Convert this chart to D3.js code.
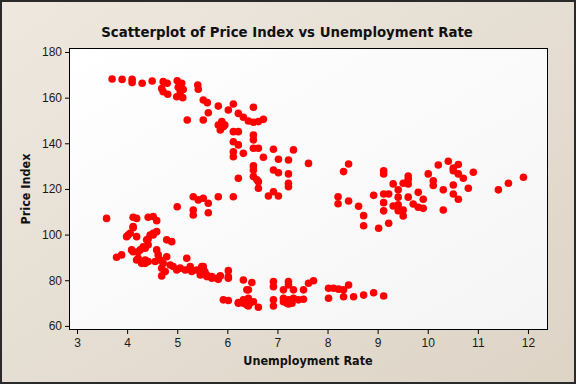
<!DOCTYPE html>
<html>
<head>
<meta charset="utf-8">
<script src="https://cdn.jsdelivr.net/npm/d3@7"></script>
<style>
  html, body { margin: 0; padding: 0; }
  svg { display: block; }
</style>
</head>
<body>
<div id="chart"></div>
<script>
// tick values
const xTicks = [3, 4, 5, 6, 7, 8, 9, 10, 11, 12];
const yTicks = [60, 80, 100, 120, 140, 160, 180];

// upper arm: high price index, falling with unemployment
const upperArm = [
  [3.70,168.2],[3.90,168],[4.10,168],[4.10,166.6],[4.30,166.3],[4.50,167.3],[4.72,167],[4.80,166.3],
  [4.69,164],[4.72,162.6],[4.81,161.5],[5.00,167.4],[5.09,166.3],[5.02,164.5],[5.12,163.6],[5.06,162.5],
  [4.99,160.4],[5.11,160],[5.41,165.5],[5.42,163.7],[5.20,150.2],[5.52,159],[5.60,157.8],[5.62,153.4],
  [5.52,150.2],[5.82,156.3],[6.02,154.6],[6.12,157.2],[5.82,148],[5.89,149.5],[5.95,148],[5.86,145.8],
  [5.92,147.3],[6.22,153.1],[6.32,151.4],[6.42,149.8],[6.52,149.2],[6.62,149.5],[6.72,150.5],[6.52,155.8],
  [6.12,145.1],[6.22,145.1],[6.52,143.6],[6.52,141.5],[6.12,140.7],[6.22,139.3],[6.52,137.8],[6.62,137.8],
  [6.92,137.4],[6.12,136.3],[6.12,134.1],[6.32,135.6],[6.72,133.9],[7.02,133],[6.52,130.1],[6.52,128.3],
  [6.92,128.3],[7.02,127.1],[6.22,124.7],[6.52,125.4],[6.59,124],[7.22,132.7],[7.32,137.1],[7.62,131.2],
  [7.22,126.6],[6.62,123.2],[6.62,120.3],[7.22,122.5],[7.22,121],[6.82,116.9],[6.92,118.8],[7.02,116.9],
  [5.32,116.6],[5.42,115.2],[5.52,115.9],[5.62,113.7],[5.82,116.6],[6.12,116.6]
];

// right cluster: high unemployment
const rightCluster = [
  [8.21,116.6],[8.21,113.5],[8.42,130.9],[8.32,127.6],[9.12,128],[9.12,126.6],[10.21,130.5],[10.41,132.1],
  [10.61,130.7],[10.51,129.1],[10.51,128],[10.91,127.3],[10.01,126.6],[10.61,126.6],[10.71,124.7],[9.61,125.7],
  [9.61,124.2],[10.11,123.6],[10.11,121.5],[9.51,122.5],[9.61,122.2],[9.31,122.2],[10.51,121.7],[10.81,120.3],
  [11.41,119.6],[11.61,122.5],[11.91,125.1],[9.41,119.6],[9.81,118.5],[10.31,119.6],[10.51,117.8],[8.92,117.2],
  [9.12,117.8],[9.22,117.8],[9.41,116.4],[9.61,116.4],[9.91,115.5],[10.61,115.5],[8.42,114.7],[8.62,112.4],
  [9.12,114],[9.31,112.5],[9.41,113],[9.71,113.4],[9.81,112],[9.91,111.5],[9.12,110.4],[9.41,110.5],
  [9.51,110.8],[9.51,108.2],[10.31,110.8],[8.72,108.3],[8.72,103.9],[9.02,102.8],[9.22,105]
];

// lower arm: low price index
const lowerArm = [
  [3.59,107.1],[4.12,107.6],[4.19,107.1],[4.42,107.6],[4.52,107.9],[4.59,106.1],[5.00,112.2],[5.32,110.8],
  [5.32,108.6],[5.62,109.6],[4.12,103.5],[4.12,103],[4.06,100.6],[3.99,99.1],[4.02,99.8],[4.19,99.1],
  [4.42,98.1],[4.52,100.6],[4.59,101.3],[4.46,99.8],[4.52,99.8],[4.39,97.7],[4.42,95.5],[4.32,94.7],
  [4.26,93.3],[4.12,92.5],[4.09,93.3],[4.22,92.5],[4.36,94],[4.79,97.7],[4.89,96.9],[3.79,90.1],
  [3.89,91.1],[4.19,88.9],[4.29,87.4],[4.36,88.9],[4.42,88.2],[4.22,89.6],[4.36,87.4],[4.59,93.3],
  [4.62,91.1],[4.56,88.2],[4.66,88.9],[4.72,87.4],[4.79,90.3],[4.69,85.3],[4.76,83.8],[4.69,81.9],
  [4.86,86.7],[4.92,86],[4.99,84.5],[5.06,85.3],[5.19,89.6],[5.16,84.5],[5.26,86],[5.29,83.8],
  [5.39,84.5],[5.49,86],[5.55,83.8],[5.46,82.3],[5.59,81.6],[5.69,80.9],[5.82,80.4],[6.02,84.2],
  [6.02,80.9],[6.32,80.1],[6.39,75.8],[5.92,71.4],[6.02,71.1],[6.22,69.9],[6.32,71.4],[6.39,69.2],
  [5.52,86],[5.52,83.8],[5.59,82.3],[5.69,81.6],[5.79,80.9],[5.86,81.9],[6.02,81.6],[6.49,79],
  [6.42,75.8],[6.22,70.2],[6.42,72.1],[6.45,69.9],[6.52,70.6],[6.62,68.2],[6.42,68.7],[6.32,69.9],
  [6.92,79.4],[6.92,77.2],[6.92,71.4],[6.92,68.7],[7.22,79.4],[7.22,77.9],[7.12,75.8],[7.32,75.8],
  [7.52,75.8],[7.62,78.7],[7.72,79.8],[7.12,72.1],[7.22,71.4],[7.19,69.9],[7.32,72.1],[7.42,71.4],
  [7.52,71.7],[7.12,70.6],[7.29,69.9],[7.22,69.6],[8.02,76.5],[8.12,76.5],[8.22,76.1],[8.32,75.8],
  [8.42,77.9],[8.02,72.1],[8.32,72.8],[8.52,72.8],[8.72,73.5],[8.92,74.5],[9.12,73.1]
];

const points = upperArm.concat(rightCluster, lowerArm);

const W = 576, H = 384;
const plot = { left: 69, right: 548, top: 48, bottom: 330 };

const svg = d3.select("#chart").append("svg")
  .attr("width", W).attr("height", H);

const defs = svg.append("defs");
const bg = defs.append("linearGradient").attr("id", "bg")
  .attr("x1", "0").attr("y1", "0").attr("x2", "1").attr("y2", "1");
bg.append("stop").attr("offset", "0%").attr("stop-color", "#eee8df");
bg.append("stop").attr("offset", "100%").attr("stop-color", "#ddd4c6");

const pg = defs.append("linearGradient").attr("id", "pg")
  .attr("x1", "0").attr("y1", "0").attr("x2", "1").attr("y2", "1");
pg.append("stop").attr("offset", "0%").attr("stop-color", "#ffffff");
pg.append("stop").attr("offset", "100%").attr("stop-color", "#f5f5f5");

// background + outer border
svg.append("rect").attr("x", 0).attr("y", 0).attr("width", W).attr("height", H)
  .attr("fill", "url(#bg)");
svg.append("rect").attr("x", 1).attr("y", 1).attr("width", W - 2).attr("height", H - 2)
  .attr("fill", "none").attr("stroke", "#2a2a2a").attr("stroke-width", 2);

const x = d3.scaleLinear().domain([2.84, 12.4]).range([plot.left, plot.right]);
const y = d3.scaleLinear().domain([58.2, 181.75]).range([plot.bottom, plot.top]);

// plot area
svg.append("rect")
  .attr("x", plot.left).attr("y", plot.top)
  .attr("width", plot.right - plot.left).attr("height", plot.bottom - plot.top)
  .attr("fill", "url(#pg)");

// points
svg.append("g")
  .selectAll("circle")
  .data(points)
  .enter()
  .append("circle")
  .attr("cx", d => x(d[0]))
  .attr("cy", d => y(d[1]))
  .attr("r", 3.8)
  .attr("fill", "#ff0000");

// frame
svg.append("rect")
  .attr("x", plot.left + 0.5).attr("y", plot.top + 0.5)
  .attr("width", plot.right - plot.left - 1).attr("height", plot.bottom - plot.top - 1)
  .attr("fill", "none").attr("stroke", "#000").attr("stroke-width", 1);

// axes
const xAxis = svg.append("g")
  .attr("transform", `translate(0,${plot.bottom})`)
  .call(d3.axisBottom(x).tickValues(xTicks).tickSize(4).tickPadding(4).tickFormat(d3.format("d")));
const yAxis = svg.append("g")
  .attr("transform", `translate(${plot.left},0)`)
  .call(d3.axisLeft(y).tickValues(yTicks).tickSize(4).tickPadding(3).tickFormat(d3.format("d")));

[xAxis, yAxis].forEach(a => {
  a.select(".domain").remove();
  a.selectAll(".tick line").attr("stroke", "#000");
  a.selectAll(".tick text")
    .attr("fill", "#1a1a1a")
    .style("font-family", "'Liberation Sans', Arial, sans-serif")
    .style("font-size", "12px");
});

// titles
svg.append("text")
  .attr("x", 287).attr("y", 37)
  .attr("text-anchor", "middle")
  .style("font-family", "'DejaVu Sans Condensed', 'DejaVu Sans', sans-serif")
  .style("font-weight", "bold")
  .style("font-size", "14.8px")
  .attr("fill", "#111")
  .text("Scatterplot of Price Index vs Unemployment Rate");

svg.append("text")
  .attr("x", 308).attr("y", 365)
  .attr("text-anchor", "middle")
  .style("font-family", "'DejaVu Sans Condensed', 'DejaVu Sans', sans-serif")
  .style("font-weight", "bold")
  .style("font-size", "12.5px")
  .attr("fill", "#111")
  .text("Unemployment Rate");

svg.append("text")
  .attr("transform", "translate(30,189) rotate(-90)")
  .attr("text-anchor", "middle")
  .style("font-family", "'DejaVu Sans Condensed', 'DejaVu Sans', sans-serif")
  .style("font-weight", "bold")
  .style("font-size", "12.5px")
  .attr("fill", "#111")
  .text("Price Index");
</script>
</body>
</html>
